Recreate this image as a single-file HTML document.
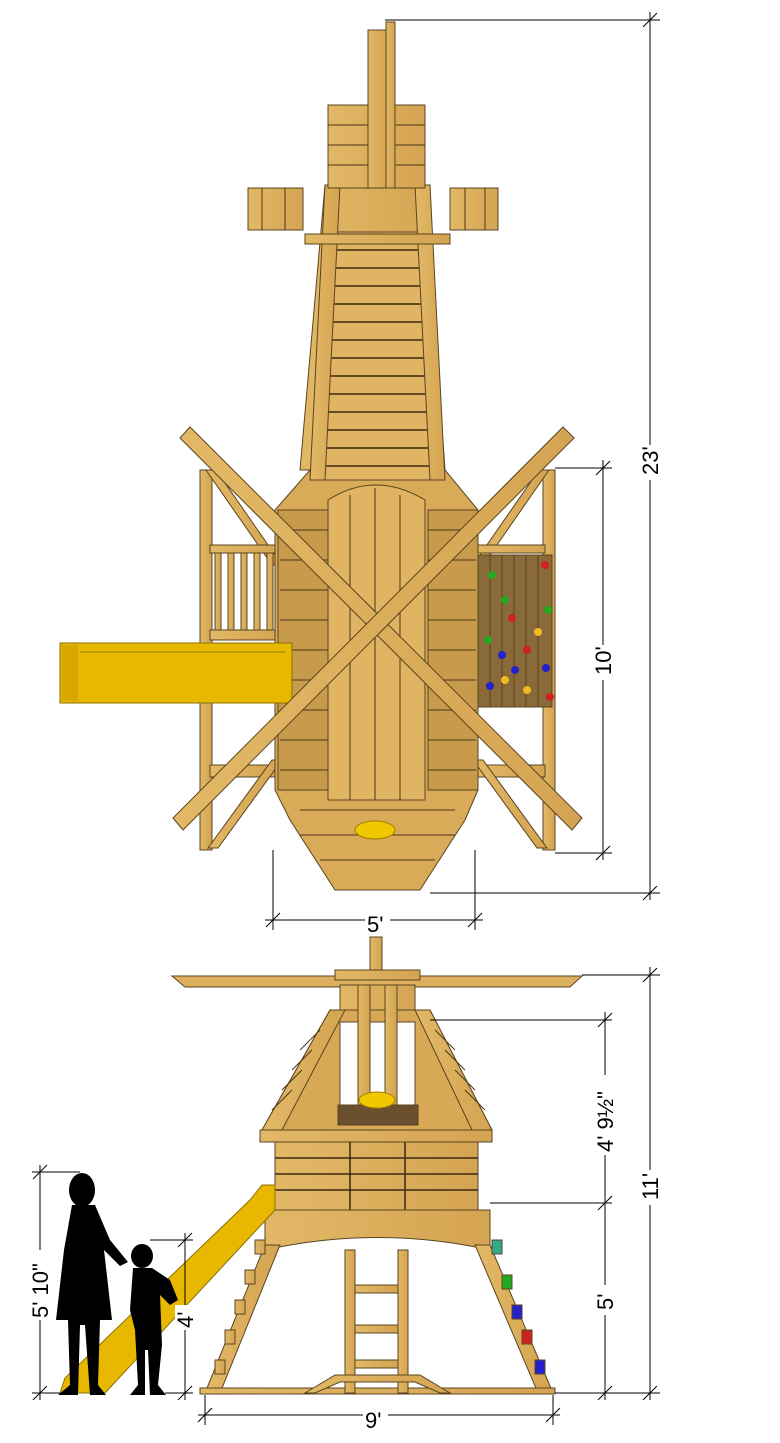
<!DOCTYPE html>
<html><head><meta charset="utf-8"><style>
html,body{margin:0;padding:0;background:#fff;}
svg{display:block}
text{font-family:"Liberation Sans",sans-serif;font-size:22px;fill:#000}
</style></head><body>
<svg width="780" height="1443" viewBox="0 0 780 1443" xmlns="http://www.w3.org/2000/svg">
<defs>
<linearGradient id="wd" x1="0" x2="1"><stop offset="0" stop-color="#e2b866"/><stop offset="1" stop-color="#d4a452"/></linearGradient>
</defs>
<g stroke="#5a4420" stroke-width="1" fill="url(#wd)">
<!-- ===== TOP VIEW ===== -->
<!-- side frames (open) -->
<rect x="200" y="470" width="12" height="380"/>
<polygon points="206,470 216,470 282,565 272,565"/>
<rect x="210" y="545" width="70" height="8"/>
<rect x="210" y="630" width="70" height="10"/>
<g><rect x="215" y="553" width="6" height="77"/><rect x="228" y="553" width="6" height="77"/><rect x="241" y="553" width="6" height="77"/><rect x="254" y="553" width="6" height="77"/><rect x="267" y="553" width="6" height="77"/></g>
<rect x="210" y="765" width="70" height="12"/>
<polygon points="208,848 218,848 282,760 272,760"/>
<rect x="543" y="470" width="12" height="380"/>
<polygon points="549,470 539,470 473,565 483,565"/>
<rect x="475" y="545" width="70" height="8"/>
<rect x="475" y="765" width="70" height="12"/>
<polygon points="547,848 537,848 473,760 483,760"/>
<!-- octagon body -->
<polygon points="310,470 445,470 478,510 478,790 465,820 420,890 335,890 290,820 275,790 275,510" fill="#d9aa57"/>
<rect x="278" y="510" width="50" height="280" fill="#c89a4c"/>
<rect x="428" y="510" width="50" height="280" fill="#c89a4c"/>
<g stroke="#4a3618">
<line x1="280" y1="530" x2="328" y2="530"/><line x1="280" y1="560" x2="328" y2="560"/><line x1="280" y1="590" x2="328" y2="590"/><line x1="280" y1="620" x2="328" y2="620"/><line x1="280" y1="650" x2="328" y2="650"/><line x1="280" y1="680" x2="328" y2="680"/><line x1="280" y1="710" x2="328" y2="710"/><line x1="280" y1="740" x2="328" y2="740"/><line x1="280" y1="770" x2="328" y2="770"/>
<line x1="428" y1="530" x2="476" y2="530"/><line x1="428" y1="560" x2="476" y2="560"/><line x1="428" y1="590" x2="476" y2="590"/><line x1="428" y1="620" x2="476" y2="620"/><line x1="428" y1="650" x2="476" y2="650"/><line x1="428" y1="680" x2="476" y2="680"/><line x1="428" y1="710" x2="476" y2="710"/><line x1="428" y1="740" x2="476" y2="740"/><line x1="428" y1="770" x2="476" y2="770"/>
<line x1="300" y1="810" x2="455" y2="810"/><line x1="300" y1="835" x2="455" y2="835"/><line x1="320" y1="860" x2="435" y2="860"/>
</g>
<!-- center column -->
<path d="M328,500 Q375,470 425,500 L425,800 L328,800 Z" fill="#e0b463"/>
<g stroke="#4a3618"><line x1="350" y1="495" x2="350" y2="800"/><line x1="375" y1="488" x2="375" y2="800"/><line x1="400" y1="495" x2="400" y2="800"/></g>
<!-- boom -->
<polygon points="325,185 425,185 445,470 300,470"/>
<rect x="325" y="232" width="105" height="248" fill="#e0b463"/>
<g stroke="#3a2a10" stroke-width="1.5">
<line x1="325" y1="250" x2="430" y2="250"/><line x1="325" y1="268" x2="430" y2="268"/><line x1="325" y1="286" x2="430" y2="286"/><line x1="325" y1="304" x2="430" y2="304"/><line x1="325" y1="322" x2="430" y2="322"/><line x1="325" y1="340" x2="430" y2="340"/><line x1="325" y1="358" x2="430" y2="358"/><line x1="325" y1="376" x2="430" y2="376"/><line x1="325" y1="394" x2="430" y2="394"/><line x1="325" y1="412" x2="430" y2="412"/><line x1="325" y1="430" x2="430" y2="430"/><line x1="325" y1="448" x2="430" y2="448"/><line x1="325" y1="466" x2="430" y2="466"/>
</g>
<polygon points="325,185 340,185 325,480 310,480"/>
<polygon points="415,185 430,185 445,480 430,480"/>
<!-- wings -->
<rect x="248" y="188" width="55" height="42"/>
<rect x="450" y="188" width="48" height="42"/>
<g stroke="#4a3618"><line x1="262" y1="188" x2="262" y2="230"/><line x1="285" y1="188" x2="285" y2="230"/><line x1="465" y1="188" x2="465" y2="230"/><line x1="485" y1="188" x2="485" y2="230"/></g>
<rect x="305" y="234" width="145" height="10"/>
<!-- tail block -->
<rect x="328" y="105" width="97" height="83"/>
<g stroke="#4a3618"><line x1="328" y1="125" x2="425" y2="125"/><line x1="328" y1="145" x2="425" y2="145"/><line x1="328" y1="165" x2="425" y2="165"/></g>
<rect x="368" y="30" width="18" height="158"/>
<rect x="386" y="22" width="9" height="166"/>
<!-- slide -->
<rect x="60" y="643" width="232" height="60" fill="#e8b800" stroke="#8a7000"/>
<rect x="62" y="645" width="16" height="56" fill="#d8a800" stroke="none"/>
<line x1="80" y1="652" x2="285" y2="652" stroke="#9a7d00"/>
<!-- climbing wall -->
<rect x="478" y="555" width="74" height="152" fill="#8b6a3a"/>
<g stroke="#5a4420"><line x1="490" y1="555" x2="490" y2="707"/><line x1="502" y1="555" x2="502" y2="707"/><line x1="514" y1="555" x2="514" y2="707"/><line x1="526" y1="555" x2="526" y2="707"/><line x1="538" y1="555" x2="538" y2="707"/></g>
<g stroke="none">
<circle cx="545" cy="565" r="4" fill="#c22"/><circle cx="492" cy="575" r="4" fill="#2a2"/><circle cx="505" cy="600" r="4" fill="#2a2"/><circle cx="548" cy="610" r="4" fill="#2a2"/><circle cx="512" cy="618" r="4" fill="#c22"/><circle cx="538" cy="632" r="4" fill="#eb2"/><circle cx="488" cy="640" r="4" fill="#2a2"/><circle cx="527" cy="650" r="4" fill="#c22"/><circle cx="502" cy="655" r="4" fill="#22c"/><circle cx="515" cy="670" r="4" fill="#22c"/><circle cx="546" cy="668" r="4" fill="#22c"/><circle cx="505" cy="680" r="4" fill="#eb2"/><circle cx="490" cy="686" r="4" fill="#22c"/><circle cx="527" cy="690" r="4" fill="#eb2"/><circle cx="550" cy="697" r="4" fill="#c22"/>
</g>
<!-- blades -->
<polygon points="180,438 190,427 582,818 572,830"/>
<polygon points="563,427 574,438 183,830 173,818"/>
<!-- wheel -->
<ellipse cx="375" cy="830" rx="20" ry="9" fill="#f0c800" stroke="#a08000"/>

<!-- ===== SIDE VIEW ===== -->
<polygon points="172,976 582,976 570,987 185,987" fill="#ddb060"/>
<rect x="370" y="937" width="12" height="40"/>
<rect x="335" y="970" width="85" height="10"/>
<!-- tower -->
<polygon points="330,1010 430,1010 492,1130 262,1130" fill="#d8a955"/>
<polygon points="340,1022 415,1022 415,1110 340,1110" fill="#fff"/>
<polygon points="330,1010 345,1010 282,1130 262,1130"/>
<polygon points="415,1010 430,1010 492,1130 472,1130"/>
<g stroke="#4a3618"><line x1="320" y1="1030" x2="300" y2="1050"/><line x1="312" y1="1050" x2="292" y2="1070"/><line x1="302" y1="1070" x2="282" y2="1090"/><line x1="292" y1="1090" x2="272" y2="1110"/><line x1="435" y1="1030" x2="455" y2="1050"/><line x1="445" y1="1050" x2="465" y2="1070"/><line x1="455" y1="1070" x2="475" y2="1090"/><line x1="465" y1="1090" x2="485" y2="1110"/></g>
<rect x="340" y="985" width="75" height="25"/>
<rect x="358" y="985" width="12" height="125"/><rect x="385" y="985" width="12" height="125"/>
<rect x="338" y="1105" width="80" height="20" fill="#6b5030"/>
<ellipse cx="377" cy="1100" rx="18" ry="8" fill="#f0c800" stroke="#a08000"/>
<!-- cabin -->
<rect x="260" y="1130" width="232" height="12"/>
<rect x="275" y="1142" width="203" height="68"/>
<g stroke="#3a2a10" stroke-width="1.5"><line x1="275" y1="1158" x2="478" y2="1158"/><line x1="275" y1="1174" x2="478" y2="1174"/><line x1="275" y1="1190" x2="478" y2="1190"/><line x1="350" y1="1142" x2="350" y2="1210"/><line x1="405" y1="1142" x2="405" y2="1210"/></g>
<!-- base -->
<path d="M265,1210 L490,1210 L490,1250 Q377,1225 265,1250 Z"/>
<polygon points="265,1245 280,1245 220,1393 205,1393"/>
<polygon points="475,1245 490,1245 553,1393 538,1393"/>
<g><rect x="255" y="1240" width="10" height="14"/><rect x="245" y="1270" width="10" height="14"/><rect x="235" y="1300" width="10" height="14"/><rect x="225" y="1330" width="10" height="14"/><rect x="215" y="1360" width="10" height="14"/>
<rect x="492" y="1240" width="10" height="14" fill="#3a8"/><rect x="502" y="1275" width="10" height="14" fill="#2a2"/><rect x="512" y="1305" width="10" height="14" fill="#22c"/><rect x="522" y="1330" width="10" height="14" fill="#c22"/><rect x="535" y="1360" width="10" height="14" fill="#22c"/></g>
<rect x="200" y="1388" width="355" height="6"/>
<!-- ladder -->
<rect x="345" y="1250" width="10" height="143"/><rect x="398" y="1250" width="10" height="143"/>
<rect x="355" y="1285" width="43" height="8"/><rect x="355" y="1325" width="43" height="8"/><rect x="355" y="1360" width="43" height="8"/>
<polygon points="305,1393 335,1375 420,1375 450,1393 440,1393 415,1382 340,1382 315,1393"/>
<!-- slide -->
<polygon points="262,1185 275,1185 275,1210 105,1393 60,1393 65,1378 250,1200" fill="#e8b800" stroke="#8a7000"/>
</g>
<!-- silhouettes -->
<g fill="#000">
<ellipse cx="82" cy="1190" rx="13" ry="17"/>
<path d="M72,1205 L95,1205 L110,1240 L128,1262 L120,1266 L104,1250 L112,1320 L100,1320 L98,1385 L106,1395 L90,1395 L85,1325 L80,1325 L78,1395 L58,1395 L70,1385 L68,1320 L56,1320 L64,1250 Z"/>
<ellipse cx="142" cy="1256" rx="11" ry="12"/>
<path d="M133,1268 L152,1268 L170,1280 L178,1300 L170,1305 L160,1295 L162,1345 L158,1385 L166,1395 L150,1395 L148,1350 L145,1350 L145,1395 L130,1395 L138,1385 L135,1330 L130,1310 Z"/>
</g>
<!-- dimensions -->
<g stroke="#000" stroke-width="1" fill="none">
<line x1="385" y1="20" x2="660" y2="20"/><line x1="650" y1="12" x2="650" y2="900"/><line x1="430" y1="893" x2="660" y2="893"/>
<line x1="643" y1="27" x2="657" y2="13"/><line x1="643" y1="900" x2="657" y2="886"/>
<line x1="555" y1="468" x2="612" y2="468"/><line x1="603" y1="460" x2="603" y2="860"/><line x1="555" y1="853" x2="612" y2="853"/>
<line x1="596" y1="475" x2="610" y2="461"/><line x1="596" y1="860" x2="610" y2="846"/>
<line x1="273" y1="850" x2="273" y2="930"/><line x1="475" y1="850" x2="475" y2="930"/><line x1="265" y1="920" x2="483" y2="920"/>
<line x1="266" y1="927" x2="280" y2="913"/><line x1="468" y1="927" x2="482" y2="913"/>
<line x1="582" y1="975" x2="660" y2="975"/><line x1="650" y1="967" x2="650" y2="1400"/><line x1="555" y1="1393" x2="660" y2="1393"/>
<line x1="643" y1="982" x2="657" y2="968"/><line x1="643" y1="1400" x2="657" y2="1386"/>
<line x1="430" y1="1020" x2="612" y2="1020"/><line x1="605" y1="1012" x2="605" y2="1400"/><line x1="490" y1="1203" x2="612" y2="1203"/>
<line x1="598" y1="1027" x2="612" y2="1013"/><line x1="598" y1="1210" x2="612" y2="1196"/><line x1="598" y1="1400" x2="612" y2="1386"/>
<line x1="205" y1="1395" x2="205" y2="1425"/><line x1="553" y1="1395" x2="553" y2="1425"/><line x1="198" y1="1415" x2="560" y2="1415"/>
<line x1="198" y1="1422" x2="212" y2="1408"/><line x1="546" y1="1422" x2="560" y2="1408"/>
<line x1="32" y1="1172" x2="80" y2="1172"/><line x1="40" y1="1165" x2="40" y2="1400"/><line x1="32" y1="1393" x2="60" y2="1393"/>
<line x1="33" y1="1179" x2="47" y2="1165"/><line x1="33" y1="1400" x2="47" y2="1386"/>
<line x1="150" y1="1240" x2="193" y2="1240"/><line x1="185" y1="1233" x2="185" y2="1400"/><line x1="165" y1="1393" x2="193" y2="1393"/>
<line x1="178" y1="1247" x2="192" y2="1233"/><line x1="178" y1="1400" x2="192" y2="1386"/>
</g>
<g>
<rect x="640" y="445" width="20" height="35" fill="#fff"/>
<text transform="translate(658,475) rotate(-90)">23'</text>
<rect x="593" y="645" width="20" height="35" fill="#fff"/>
<text transform="translate(611,675) rotate(-90)">10'</text>
<rect x="365" y="910" width="25" height="20" fill="#fff"/>
<text x="367" y="932">5'</text>
<rect x="640" y="1170" width="20" height="35" fill="#fff"/>
<text transform="translate(658,1200) rotate(-90)">11'</text>
<rect x="595" y="1075" width="20" height="80" fill="#fff"/>
<text transform="translate(613,1152) rotate(-90)">4' 9½"</text>
<rect x="595" y="1285" width="20" height="30" fill="#fff"/>
<text transform="translate(613,1310) rotate(-90)">5'</text>
<rect x="363" y="1405" width="25" height="20" fill="#fff"/>
<text x="365" y="1428">9'</text>
<rect x="30" y="1250" width="20" height="70" fill="#fff"/>
<text transform="translate(48,1318) rotate(-90)">5' 10"</text>
<rect x="175" y="1305" width="20" height="25" fill="#fff"/>
<text transform="translate(193,1328) rotate(-90)">4'</text>
</g>
</svg>
</body></html>
